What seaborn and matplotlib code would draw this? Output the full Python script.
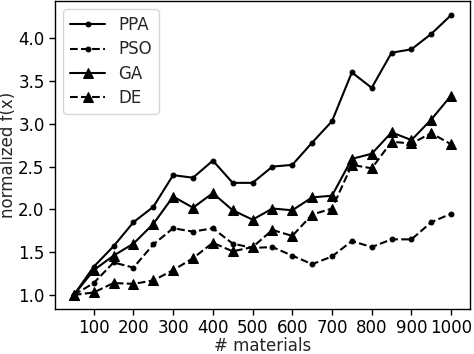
import pandas as pd
import seaborn as sns
import matplotlib
matplotlib.use("Agg")
import matplotlib.pyplot as plt

# données
materials = [50, 100, 150, 200, 250, 300, 350, 400, 450, 500,
             550, 600, 650, 700, 750, 800, 850, 900, 950, 1000]
ppa = [1.00, 1.33, 1.57, 1.85, 2.03, 2.40, 2.37, 2.57, 2.31, 2.31,
       2.50, 2.52, 2.78, 3.03, 3.60, 3.42, 3.83, 3.87, 4.05, 4.27]
pso = [1.00, 1.14, 1.38, 1.32, 1.59, 1.78, 1.74, 1.78, 1.60, 1.55,
       1.56, 1.46, 1.36, 1.45, 1.63, 1.56, 1.65, 1.65, 1.85, 1.95]
ga = [1.00, 1.29, 1.46, 1.60, 1.83, 2.15, 2.02, 2.19, 1.99, 1.88,
      2.01, 1.99, 2.14, 2.16, 2.59, 2.65, 2.90, 2.81, 3.05, 3.33]
de = [1.00, 1.03, 1.14, 1.13, 1.17, 1.29, 1.43, 1.61, 1.51, 1.56,
      1.76, 1.69, 1.94, 2.01, 2.52, 2.48, 2.79, 2.77, 2.89, 2.76]

series = {"PPA": ppa, "PSO": pso, "GA": ga, "DE": de}
styles = {"PPA": ("-", "."), "PSO": ("--", "."), "GA": ("-", "^"), "DE": ("--", "^")}

df = pd.DataFrame({"materials": materials, **series})
long_df = df.melt(id_vars="materials", var_name="algo", value_name="f")

sns.set_style("ticks")
plt.rcParams["font.family"] = ["DejaVu Sans"]
fs = 12

fig, ax = plt.subplots(figsize=(4.74, 3.54), dpi=100)
fig.subplots_adjust(left=55 / 474, right=470 / 474, bottom=1 - 309 / 354, top=0.997)

for name in series:
    ls, mk = styles[name]
    sub = long_df[long_df["algo"] == name]
    sns.lineplot(data=sub, x="materials", y="f", ax=ax, color="black",
                 linestyle=ls, marker=mk, markersize=7.5 if mk == "^" else 7,
                 markeredgecolor="black", linewidth=1.5, label=name)

ax.set_xticks(range(100, 1001, 100))
ax.set_xlabel("# materials", fontsize=fs, labelpad=0)
ax.set_ylabel("normalized f(x)", fontsize=fs, labelpad=1)
ax.tick_params(labelsize=fs, length=4, width=1, colors="black", pad=3.5)
for s in ax.spines.values():
    s.set_color("black")
    s.set_linewidth(1)
ax.margins(x=0.05, y=0.05)
ax.legend(loc="upper left", fontsize=fs, frameon=True, handlelength=2.1,
          borderaxespad=0.5, labelspacing=0.38)

plt.savefig("out.png", dpi=100)
plt.close()
